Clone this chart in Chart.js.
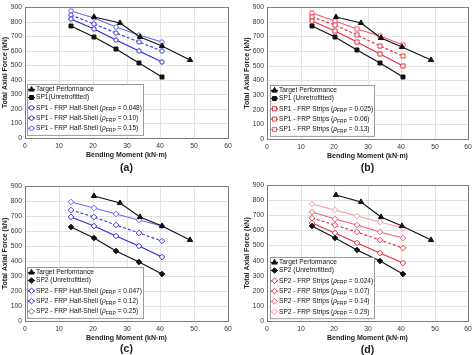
<!DOCTYPE html>
<html><head><meta charset="utf-8">
<script src="https://cdn.jsdelivr.net/npm/chart.js@4/dist/chart.umd.min.js"></script>
<style>
html,body{margin:0;padding:0;background:#fff;}
#wrap{position:relative;width:474px;height:355px;overflow:hidden;background:#fff;}
canvas{position:absolute;}
.cap{position:absolute;font:bold 10.5px "Liberation Sans",Arial,sans-serif;color:#1a1a1a;transform:translate(-50%,-50%);white-space:nowrap;}
</style></head><body>
<div id="wrap">
<canvas id="ca" width="237" height="175" style="left:0;top:0"></canvas>
<canvas id="cb" width="250" height="175" style="left:237px;top:0"></canvas>
<canvas id="cc" width="237" height="180" style="left:0;top:175px"></canvas>
<canvas id="cd" width="250" height="180" style="left:237px;top:175px"></canvas>
<div class="cap" style="left:126.5px;top:167px">(a)</div>
<div class="cap" style="left:367.5px;top:167px">(b)</div>
<div class="cap" style="left:126.5px;top:348px">(c)</div>
<div class="cap" style="left:367.5px;top:349px">(d)</div>
</div>
<script>
// ---- data ----
const momentSP = [13.5, 20.4, 27.0, 33.8, 40.6];
const momentTarget = [20.5, 28.0, 33.9, 40.4, 48.9];
const forceTarget = [833, 788, 691, 631, 537];

const forceSP1Unretro = [770, 695, 610, 518, 420];
const forceSP1Shell048 = [815, 748, 676, 598, 524];
const forceSP1Shell010 = [844, 784, 721, 658, 600];
const forceSP1Shell015 = [875, 824, 766, 707, 662];
const forceSP1Strip025 = [806, 739, 661, 581, 496];
const forceSP1Strip006 = [835, 775, 708, 636, 569];
const forceSP1Strip013 = [862, 804, 750, 701, 641];

const forceSP2Unretro = [630, 550, 470, 395, 312];
const forceSP2Shell047 = [693, 633, 566, 499, 425];
const forceSP2Shell012 = [742, 690, 641, 588, 532];
const forceSP2Shell025 = [795, 753, 713, 673, 633];
const forceSP2Strip024 = [646, 580, 513, 451, 385];
const forceSP2Strip007 = [684, 635, 586, 538, 484];
const forceSP2Strip014 = [719, 677, 633, 588, 546];
const forceSP2Strip029 = [772, 737, 695, 655, 613];

const xTickValues = [0, 10, 20, 30, 40, 50, 60];
const yTickValues = [0, 100, 200, 300, 400, 500, 600, 700, 800, 900];

const labelsA = ['Target Performance', 'SP1(Unretrofitted)', 'SP1 - FRP Half-Shell (ρ_FRP = 0.048)', 'SP1 - FRP Half-Shell (ρ_FRP = 0.10)', 'SP1 - FRP Half-Shell (ρ_FRP = 0.15)'];
const labelsB = ['Target Performance', 'SP1 (Unretrofitted)', 'SP1 - FRP Strips (ρ_FRP = 0.025)', 'SP1 - FRP Strips (ρ_FRP = 0.06)', 'SP1 - FRP Strips (ρ_FRP = 0.13)'];
const labelsC = ['Target Performance', 'SP2 (Unretrofitted)', 'SP2 - FRP Half-Shell (ρ_FRP = 0.047)', 'SP2 - FRP Half-Shell (ρ_FRP = 0.12)', 'SP2 - FRP Half-Shell (ρ_FRP = 0.25)'];
const labelsD = ['Target Performance', 'SP2 (Unretrofitted)', 'SP2 - FRP Strips (ρ_FRP = 0.024)', 'SP2 - FRP Strips (ρ_FRP = 0.07)', 'SP2 - FRP Strips (ρ_FRP = 0.14)', 'SP2 - FRP Strips (ρ_FRP = 0.29)'];

// ---- styling ----
const FONT = '"Liberation Sans", Arial, Helvetica, sans-serif';
const BLACK = '#111111';
const BLUE1 = '#2c2cd6', BLUE2 = '#3c3ce0', BLUE3 = '#6a6aea';
const RED1 = '#e5303c', RED2 = '#e63c4a', RED3 = '#ee5e6a', RED4 = '#f39aa2';

function series(label, xs, ys, color, style, o) {
  o = o || {};
  return {
    label: label,
    data: xs.map((x, i) => ({x: x, y: ys[i]})),
    showLine: true,
    borderColor: color,
    borderWidth: 1.2,
    borderDash: o.dash || [],
    pointStyle: style,
    pointRadius: o.r || 2.4,
    pointHoverRadius: o.r || 2.4,
    pointBorderColor: color,
    pointBackgroundColor: o.fill ? color : '#ffffff',
    pointBorderWidth: 1
  };
}

const framePlugin = {
  id: 'frame',
  beforeDatasetsDraw(c) {
    const {ctx, chartArea: a} = c;
    ctx.save();
    ctx.strokeStyle = '#7d7d7d';
    ctx.lineWidth = 1;
    ctx.strokeRect(Math.round(a.left) + 0.5, Math.round(a.top) + 0.5, Math.round(a.right - a.left), Math.round(a.bottom - a.top));
    ctx.restore();
  }
};

function drawLabel(ctx, text, x, y) {
  const parts = text.split('ρ_FRP');
  ctx.font = '6.6px ' + FONT;
  ctx.fillText(parts[0], x, y);
  let w = ctx.measureText(parts[0]).width;
  if (parts.length > 1) {
    ctx.font = 'italic 6.6px ' + FONT;
    ctx.fillText('ρ', x + w, y);
    w += ctx.measureText('ρ').width;
    ctx.font = '5px ' + FONT;
    ctx.fillText('FRP', x + w, y + 2.3);
    w += ctx.measureText('FRP').width;
    ctx.font = '6.6px ' + FONT;
    ctx.fillText(parts[1], x + w, y);
  }
}

function legendPlugin(box) {
  return {
    id: 'boxLegend',
    afterDatasetsDraw(c) {
      const ctx = c.ctx;
      const n = c.data.datasets.length;
      const h = 5 + 8 + (n - 2) * 10.3 + 7;
      ctx.save();
      ctx.fillStyle = '#ffffff';
      ctx.fillRect(box.x, box.y, box.w, h);
      ctx.strokeStyle = '#9a9a9a';
      ctx.lineWidth = 1;
      ctx.strokeRect(box.x + 0.5, box.y + 0.5, box.w, h);
      c.data.datasets.forEach((ds, i) => {
        const y = box.y + (i === 0 ? 5 : 13 + (i - 1) * 10.3) + 0.5;
        ctx.strokeStyle = ds.borderColor;
        ctx.lineWidth = 1.2;
        ctx.setLineDash(ds.borderDash || []);
        ctx.beginPath();
        ctx.moveTo(box.x + 1, y);
        ctx.lineTo(box.x + 8, y);
        ctx.stroke();
        ctx.setLineDash([]);
        ctx.lineWidth = 1;
        ctx.fillStyle = ds.pointBackgroundColor;
        ctx.strokeStyle = ds.pointBorderColor;
        Chart.helpers.drawPoint(ctx, {pointStyle: ds.pointStyle, radius: ds.pointRadius, rotation: 0, borderWidth: 1}, box.x + 4.5, y);
        ctx.fillStyle = '#111';
        ctx.textBaseline = 'middle';
        ctx.textAlign = 'left';
        drawLabel(ctx, ds.label, box.x + 9, y);
      });
      ctx.restore();
    }
  };
}

function makeChart(id, datasets, pad, box) {
  const tickFont = {family: FONT, size: 6.8};
  const titleFont = {family: FONT, size: 7, weight: 'bold'};
  new Chart(document.getElementById(id), {
    type: 'scatter',
    data: {datasets: datasets},
    options: {
      responsive: false,
      animation: false,
      events: [],
      layout: {padding: pad},
      plugins: {legend: {display: false}, tooltip: {enabled: false}},
      scales: {
        x: {
          type: 'linear', min: 0, max: 60, alignToPixels: true,
          afterBuildTicks: s => { s.ticks = xTickValues.map(v => ({value: v})); },
          afterFit: s => { s.height = 22; },
          grid: {color: '#e2e2e2', lineWidth: 1, drawTicks: false},
          border: {display: false},
          ticks: {font: tickFont, color: '#333', padding: 4, autoSkip: false, maxRotation: 0},
          title: {display: true, text: 'Bending Moment (kN·m)', font: titleFont, color: '#222', padding: {top: 0, bottom: 1}}
        },
        y: {
          type: 'linear', min: 0, max: 900, alignToPixels: true,
          afterBuildTicks: s => { s.ticks = yTickValues.map(v => ({value: v})); },
          afterFit: s => { s.width = 25; },
          grid: {color: '#e2e2e2', lineWidth: 1, drawTicks: false},
          border: {display: false},
          ticks: {font: tickFont, color: '#333', padding: 3, autoSkip: false},
          title: {display: true, text: 'Total Axial Force (kN)', font: titleFont, color: '#222', padding: {top: 1, bottom: 0}}
        }
      }
    },
    plugins: [framePlugin, legendPlugin(box)]
  });
}

const TRI = {r: 3.1, fill: true};
makeChart('ca', [
  series(labelsA[0], momentTarget, forceTarget, BLACK, 'triangle', TRI),
  series(labelsA[1], momentSP, forceSP1Unretro, BLACK, 'rect', {r: 2.8, fill: true}),
  series(labelsA[2], momentSP, forceSP1Shell048, BLUE1, 'circle', {r: 2.2}),
  series(labelsA[3], momentSP, forceSP1Shell010, BLUE2, 'circle', {r: 2.2, dash: [3, 2]}),
  series(labelsA[4], momentSP, forceSP1Shell015, BLUE3, 'circle', {r: 2.2})
], {left: 0, top: 4, right: 9, bottom: 15}, {x: 27, y: 84, w: 116});

makeChart('cb', [
  series(labelsB[0], momentTarget, forceTarget, BLACK, 'triangle', TRI),
  series(labelsB[1], momentSP, forceSP1Unretro, BLACK, 'rect', {r: 2.8, fill: true}),
  series(labelsB[2], momentSP, forceSP1Strip025, RED1, 'rect', {r: 2.9}),
  series(labelsB[3], momentSP, forceSP1Strip006, RED2, 'rect', {r: 2.9, dash: [3, 2]}),
  series(labelsB[4], momentSP, forceSP1Strip013, RED3, 'rect', {r: 2.9})
], {left: 5, top: 5, right: 19, bottom: 14}, {x: 33, y: 85, w: 104});

makeChart('cc', [
  series(labelsC[0], momentTarget, forceTarget, BLACK, 'triangle', TRI),
  series(labelsC[1], momentSP, forceSP2Unretro, BLACK, 'rectRot', {r: 2.8, fill: true}),
  series(labelsC[2], momentSP, forceSP2Shell047, BLUE1, 'rectRot', {r: 2.8}),
  series(labelsC[3], momentSP, forceSP2Shell012, BLUE2, 'rectRot', {r: 2.8, dash: [3, 2]}),
  series(labelsC[4], momentSP, forceSP2Shell025, BLUE3, 'rectRot', {r: 2.8})
], {left: 0, top: 11, right: 9, bottom: 12}, {x: 27, y: 92, w: 116});

makeChart('cd', [
  series(labelsD[0], momentTarget, forceTarget, BLACK, 'triangle', TRI),
  series(labelsD[1], momentSP, forceSP2Unretro, BLACK, 'rectRot', {r: 2.8, fill: true}),
  series(labelsD[2], momentSP, forceSP2Strip024, RED1, 'rectRot', {r: 2.8}),
  series(labelsD[3], momentSP, forceSP2Strip007, RED2, 'rectRot', {r: 2.8, dash: [3, 2]}),
  series(labelsD[4], momentSP, forceSP2Strip014, RED3, 'rectRot', {r: 2.8}),
  series(labelsD[5], momentSP, forceSP2Strip029, RED4, 'rectRot', {r: 2.8})
], {left: 5, top: 10, right: 19, bottom: 12}, {x: 33, y: 82, w: 104});
</script>
</body></html>
